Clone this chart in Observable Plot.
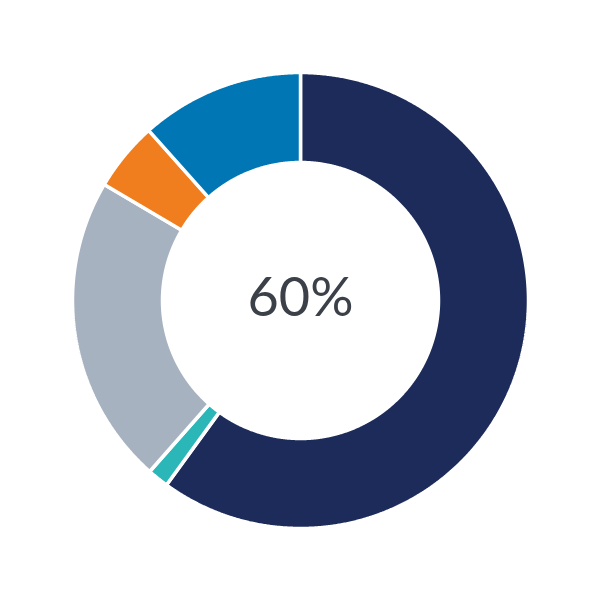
<!DOCTYPE html>
<html>
<head>
<meta charset="utf-8">
<script src="https://cdn.jsdelivr.net/npm/d3@7"></script>
<script src="https://cdn.jsdelivr.net/npm/@observablehq/plot@0.6"></script>
<style>
  html, body { margin: 0; padding: 0; background: #ffffff; }
  #chart { width: 600px; height: 600px; }
</style>
</head>
<body>
<div id="chart"></div>
<script>
const categories = ["Segment 1", "Segment 2", "Segment 3", "Segment 4", "Segment 5"];
const values = [60, 1.5, 22, 4.9, 11.6];
const colors = ["#1c2b59", "#2bb6b7", "#a7b2c0", "#f07e1f", "#0076b5"];
const centerLabel = "60%";

const outerR = 228, innerR = 138;
const total = d3.sum(values);
const rows = [];
let acc = 0;
values.forEach((v, i) => {
  const a0 = acc / total * 2 * Math.PI;
  acc += v;
  const a1 = acc / total * 2 * Math.PI;
  const n = Math.max(2, Math.ceil((a1 - a0) / 0.005));
  const pts = [];
  for (let k = 0; k <= n; k++) {
    const a = a0 + (a1 - a0) * k / n;
    pts.push({category: categories[i], x: outerR * Math.sin(a), y: outerR * Math.cos(a)});
  }
  for (let k = n; k >= 0; k--) {
    const a = a0 + (a1 - a0) * k / n;
    pts.push({category: categories[i], x: innerR * Math.sin(a), y: innerR * Math.cos(a)});
  }
  pts.push({...pts[0]});
  rows.push(...pts);
});

const chart = Plot.plot({
  width: 600,
  height: 600,
  margin: 0,
  x: {domain: [-300, 300], axis: null},
  y: {domain: [-300, 300], axis: null},
  color: {domain: categories, range: colors},
  marks: [
    Plot.line(rows, {x: "x", y: "y", z: "category", fill: "category", stroke: "white", strokeWidth: 3.5, strokeLinejoin: "miter", curve: "linear"}),
    Plot.text([{x: 0, y: 0, label: centerLabel}], {x: "x", y: "y", text: "label", fontSize: 54, fontFamily: "Lato, sans-serif", fontWeight: 400, fill: "#3b4049", dy: -2})
  ]
});
document.getElementById("chart").appendChild(chart);
</script>
</body>
</html>
